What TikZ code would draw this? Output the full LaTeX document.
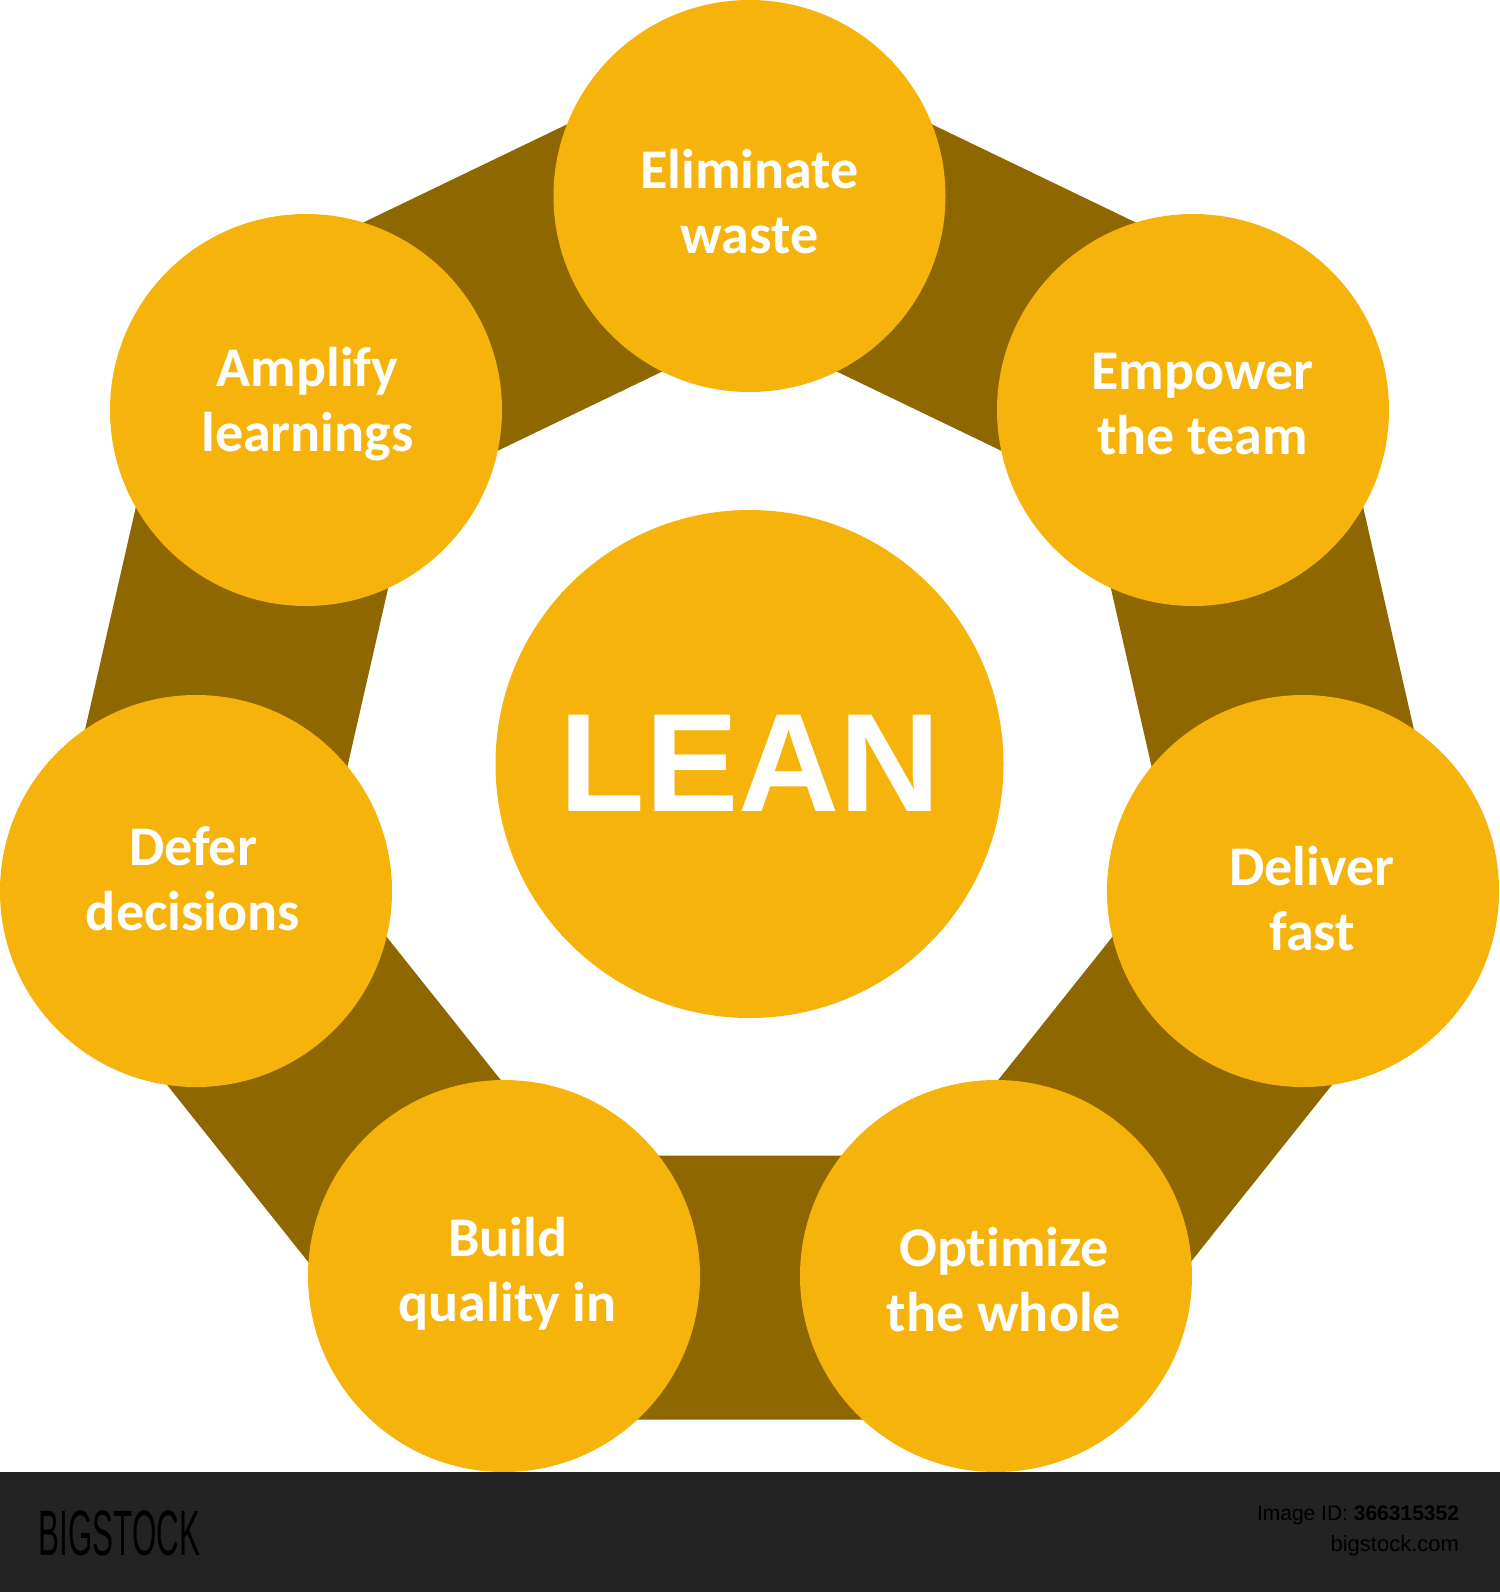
\documentclass[tikz,border=0pt]{standalone}
\usepackage{fontspec}
\setmainfont[Ligatures=NoCommon]{Carlito}
\newfontfamily\arialfont{Liberation Sans}
\usetikzlibrary{positioning}
\definecolor{gold}{HTML}{F5B30C}
\definecolor{ringbrown}{HTML}{8F6700}
\definecolor{footerbar}{HTML}{232323}
\tikzset{
  x=0.5pt,
  y=-0.5pt,
  every node/.style={inner sep=0pt, outer sep=0pt},
  petal/.style={circle, fill=gold, minimum size=196pt},
  hub/.style={circle, fill=gold, minimum size=254pt},
  ring/.style={draw=ringbrown, line width=132pt, line join=miter},
  petal text/.style={text=white, align=center, font=\fontsize{28}{32.5}\selectfont\bfseries},
  footer text/.style={text=black, anchor=east, font=\arialfont\fontsize{10.5}{12}\selectfont}
}
\begin{document}
\begin{tikzpicture}
    \useasboundingbox (0,0) rectangle (1500,1592);
    \fill[white] (0,0) rectangle (1500,1592);

    % ring behind the circles
    \coordinate (r1) at (749.5,183);
    \coordinate (r2) at (1203.7,401.7);
    \coordinate (r3) at (1315.9,893.3);
    \coordinate (r4) at (1001.6,1287.5);
    \coordinate (r5) at (497.4,1287.5);
    \coordinate (r6) at (183.1,893.3);
    \coordinate (r7) at (295.3,401.7);
    \draw[ring] (r1) -- (r2) -- (r3) -- (r4) -- (r5) -- (r6) -- (r7) -- cycle;

    \node[hub] (lean) at (749.5,764) {};
    \node[petal] (waste) at (749.5,196) {};
    \node[petal] (team) at (1193,410) {};
    \node[petal] (deliver) at (1303,891) {};
    \node[petal] (whole) at (996,1276) {};
    \node[petal] (quality) at (504,1276) {};
    \node[petal] (defer) at (196,891) {};
    \node[petal] (amplify) at (306,410) {};

    \node[text=white, font=\arialfont\bfseries\fontsize{70}{70}\selectfont] (lean-text) at (750.5,763) {LEAN};
    \node[petal text] (waste-text) at (749.5,202) {Eliminate\\waste};
    \node[petal text] (team-text) at (1202.5,404) {Empower\\the team};
    \node[petal text] (deliver-text) at (1312,899) {Deliver\\fast};
    \node[petal text] (whole-text) at (1004,1280) {Optimize\\the whole};
    \node[petal text] (quality-text) at (507.5,1274) {Build\\quality in};
    \node[petal text] (defer-text) at (193,879) {Defer\\decisions};
    \node[petal text] (amplify-text) at (307.5,404) {Amplify\\learnings};

    % footer
    \fill[footerbar] (0,1472) rectangle (1500,1592);
    \node[text=black, font=\arialfont\fontsize{32}{32}\selectfont, xscale=0.49] (brand) at (119.5,1533) {BIGSTOCK};
    \node[footer text] (image-id) at (1459,1515) {Image ID: \textbf{366315352}};
    \node[footer text, font=\arialfont\fontsize{11}{12}\selectfont] (site) at (1459,1546) {bigstock.com};
\end{tikzpicture}
\end{document}
